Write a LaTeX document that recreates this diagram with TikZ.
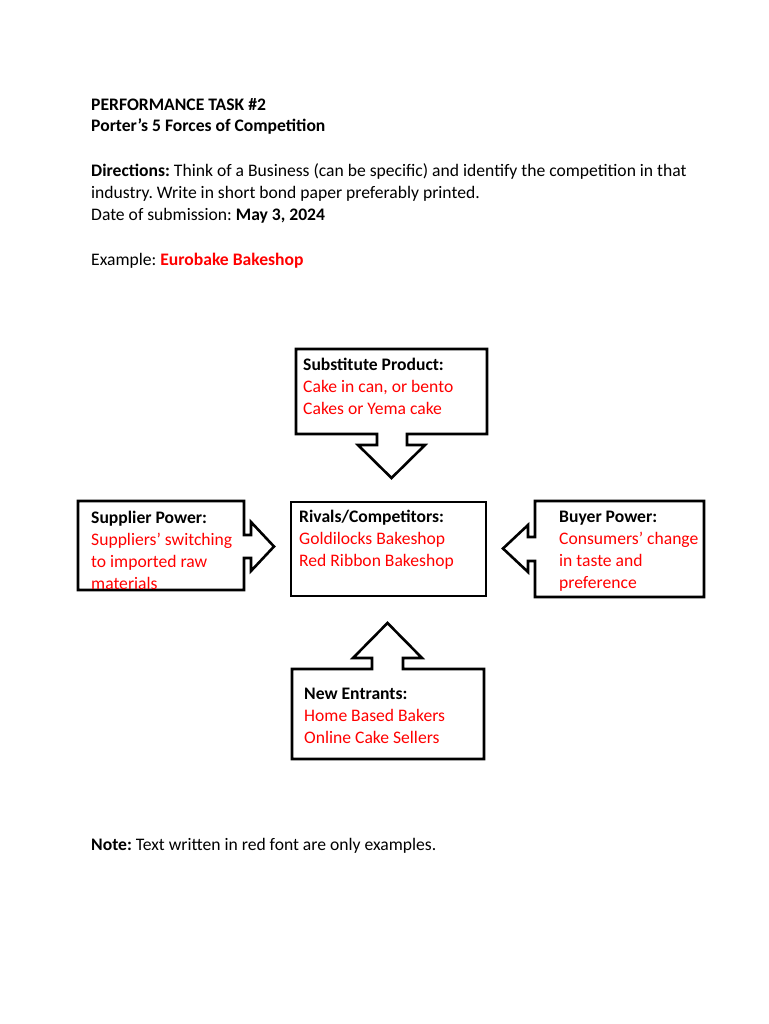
\documentclass[tikz,border=0pt]{standalone}
\usepackage{fontspec}
\setmainfont{Carlito}
\definecolor{exred}{RGB}{255,0,0}
\frenchspacing
\begin{document}
\begin{tikzpicture}[x=1pt,y=-1pt,
  txt/.style={anchor=base west, inner sep=0pt, font=\fontsize{17.6}{21}\selectfont},
  lbl/.style={txt, font=\fontsize{17.6}{21}\selectfont\bfseries},
  ex/.style={txt, text=exred},
  outl/.style={draw=black, line width=2.6pt, line join=miter, miter limit=10}]
\useasboundingbox[fill=white] (0,0) rectangle (768,1024);

% header
\node[lbl] (t1) at (91,111) {PERFORMANCE TASK \#2};
\node[lbl] (t2) at (91,132) {Porter’s 5 Forces of Competition};
\node[txt] (d1) at (91,177) {\textbf{Directions:} Think of a Business (can be specific) and identify the competition in that};
\node[txt] (d2) at (91,199) {industry. Write in short bond paper preferably printed.};
\node[txt] (d3) at (91,221) {Date of submission: \textbf{May 3, 2024}};
\node[txt] (e1) at (91,265) {Example: \textcolor{exred}{\bfseries Eurobake Bakeshop}};

% outlines
\draw[outl] (296,349) -- (487,349) -- (487,434) -- (407,434) -- (407,445) -- (425,445)
  -- (391.5,478) -- (358,445) -- (377,445) -- (377,434) -- (296,434) -- cycle;
\draw[outl] (78,501) -- (244,501) -- (244,535) -- (251,535) -- (251,522) -- (274,546.5)
  -- (251,571) -- (251,558) -- (244,558) -- (244,590) -- (78,590) -- cycle;
\draw[outl] (535,501) -- (704,501) -- (704,597) -- (535,597) -- (535,561) -- (528,561)
  -- (528,572) -- (503,548.5) -- (528,525) -- (528,537) -- (535,537) -- cycle;
\draw[outl] (291,502) rectangle (486,596);
\draw[outl] (292,669) -- (372,669) -- (372,658) -- (353,658) -- (387.5,623) -- (422,658)
  -- (403,658) -- (403,669) -- (484,669) -- (484,759) -- (292,759) -- cycle;

% substitute
\node[lbl] (s1) at (303,370) {Substitute Product:};
\node[ex] (s2) at (303,392) {Cake in can, or bento};
\node[ex] (s3) at (303,414) {Cakes or Yema cake};
% supplier
\node[lbl] (p1) at (91,523) {Supplier Power:};
\node[ex] (p2) at (91,545) {Suppliers’ switching};
\node[ex] (p3) at (91,567) {to imported raw};
\node[ex] (p4) at (91,589) {materials};
% rivals
\node[lbl] (r1) at (299,522) {Rivals/Competitors:};
\node[ex] (r2) at (299,544) {Goldilocks Bakeshop};
\node[ex] (r3) at (299,566) {Red Ribbon Bakeshop};
% buyer
\node[lbl] (b1) at (559,522) {Buyer Power:};
\node[ex] (b2) at (559,544) {Consumers’ change};
\node[ex] (b3) at (559,566) {in taste and};
\node[ex] (b4) at (559,588) {preference};
% new entrants
\node[lbl] (n1) at (304,699) {New Entrants:};
\node[ex] (n2) at (304,721) {Home Based Bakers};
\node[ex] (n3) at (304,743) {Online Cake Sellers};

% note
\node[txt] (note) at (91,850) {\textbf{Note:} Text written in red font are only examples.};
\end{tikzpicture}
\end{document}
